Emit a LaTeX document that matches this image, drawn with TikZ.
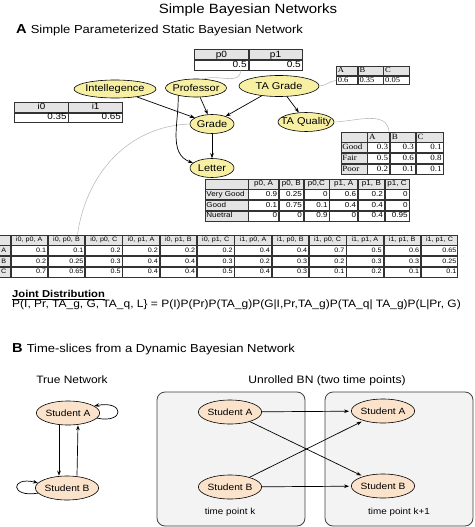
\documentclass[tikz,border=0pt]{standalone}
\usepackage{fontspec}
\setmainfont{Liberation Sans}[FakeStretch=1.12]
\newfontfamily\tabserif{Liberation Serif}[FakeStretch=1.12]
\usepackage{xcolor}
\usepackage{tikz}
\usetikzlibrary{shapes.geometric, arrows.meta, positioning, matrix}

\definecolor{nodeyellow}{HTML}{F7F0A2}
\definecolor{studentfill}{HTML}{FBE2CB}
\definecolor{hdgray}{HTML}{E4E4E4}
\definecolor{slicegray}{HTML}{F3F3F3}
\definecolor{linkgray}{HTML}{BDBDBD}

\newcommand{\lbl}[1]{\makebox[0pt]{#1}}
\newcommand{\fs}[2]{\fontsize{#1}{#2}\selectfont}

\begin{document}
\begin{tikzpicture}[x=1pt, y=1pt,
  bn/.style={ellipse, draw, line width=0.6pt, fill=nodeyellow, inner sep=0pt, font=\fs{9.8}{11}},
  student/.style={ellipse, draw, line width=0.6pt, fill=studentfill, inner sep=0pt,
    minimum width=56pt, minimum height=24pt, font=\fs{9.1}{11}},
  cpt/.style={matrix of nodes, nodes in empty cells, inner sep=0pt, outer sep=0pt,
    column sep=0pt, row sep=0pt,
    nodes={draw=black!80, line width=0.7pt, outer sep=0pt, inner xsep=1.5pt, inner ysep=0pt,
      align=right, anchor=center},
    row 1/.style={nodes={fill=hdgray, align=center}}},
  slice/.style={draw=black!75, line width=0.8pt, rounded corners=8pt, fill=slicegray},
  arr/.style={-{Stealth[length=5pt, width=3.6pt]}, line width=0.7pt},
  link/.style={draw=linkgray, line width=0.6pt}]
\useasboundingbox (0,0) rectangle (474,-527);

\node[anchor=base] (title) at (248,-13.5) {\fs{13.4}{15}Simple Bayesian Networks};
\node[anchor=base west, inner sep=0pt] (secA) at (16,-34) {\fs{13}{15}\textbf{A} \fs{11.6}{14}Simple Parameterized Static Bayesian Network};

% network A
\node[bn, minimum width=82pt, minimum height=18pt] (intel) at (115,-89) {\lbl{Intellegence}};
\node[bn, minimum width=61pt, minimum height=18pt] (prof) at (196,-88) {\lbl{Professor}};
\node[bn, minimum width=80pt, minimum height=21pt] (tag) at (279,-86) {\lbl{TA Grade}};
\node[bn, minimum width=44pt, minimum height=19pt] (grade) at (212,-124) {\lbl{Grade}};
\node[bn, minimum width=56pt, minimum height=19pt] (taq) at (306,-122) {\lbl{TA Quality}};
\node[bn, minimum width=44pt, minimum height=19pt] (letter) at (212,-168) {\lbl{Letter}};

% tables
\matrix[cpt, nodes={font=\fs{9}{9}, text width=50.5pt, minimum height=10pt, text height=6.5pt, text depth=1.8pt}]
  (ptab) at (248.5,-60) {
  p0 & p1 \\
  0.5 & 0.5 \\
};
\matrix[cpt, nodes={font=\fs{8.8}{9}, text width=50.5pt, minimum height=9.5pt, text height=6.3pt, text depth=1.8pt}]
  (itab) at (68.5,-112.5) {
  i0 & i1 \\
  0.35 & 0.65 \\
};
\matrix[cpt, nodes={font=\tabserif\fs{7.6}{8}, minimum height=8.5pt, text height=5.4pt, text depth=1.5pt, align=left},
  row 1/.append style={nodes={align=left}},
  column 1/.style={nodes={text width=18pt}}, column 2/.style={nodes={text width=22pt}},
  column 3/.style={nodes={text width=23pt}}]
  (tgtab) at (373,-75.5) {
  A & B & C \\
  0.6 & 0.35 & 0.05 \\
};
\matrix[cpt, nodes={font=\tabserif\fs{8}{8}, minimum height=10pt, text height=5.7pt, text depth=1.6pt},
  row 1/.append style={nodes={align=left}},
  column 1/.style={nodes={text width=23pt, fill=hdgray, align=left}}, column 2/.style={nodes={text width=19pt}},
  column 3/.style={nodes={text width=22pt}}, column 4/.style={nodes={text width=24pt}}]
  (qtab) at (392,-153) {
  & A & B & C \\
  Good & 0.3 & 0.3 & 0.1 \\
  Fair & 0.5 & 0.6 & 0.8 \\
  Poor & 0.2 & 0.1 & 0.1 \\
};
\matrix[cpt, nodes={font=\fs{7.2}{8}, minimum height=10pt, text height=5.2pt, text depth=1.5pt},
  column 1/.style={nodes={text width=40pt, fill=hdgray, align=left}}, column 2/.style={nodes={text width=27pt}},
  column 3/.style={nodes={text width=21pt}}, column 4/.style={nodes={text width=22pt}},
  column 5/.style={nodes={text width=25pt}}, column 6/.style={nodes={text width=23pt}},
  column 7/.style={nodes={text width=21pt}}]
  (ltab) at (307,-200) {
  & p0, A & p0, B & p0,C & p1, A & p1, B & p1, C \\
  Very Good & 0.9 & 0.25 & 0 & 0.6 & 0.2 & 0 \\
  Good & 0.1 & 0.75 & 0.1 & 0.4 & 0.4 & 0 \\
  Nuetral & 0 & 0 & 0.9 & 0 & 0.4 & 0.95 \\
};
\matrix[cpt, nodes={font=\fs{6.4}{7}, text width=33.6pt, minimum height=10pt, text height=4.6pt, text depth=1.3pt},
  column 1/.style={nodes={text width=10pt, fill=hdgray, align=center}}]
  (bigtab) at (227.5,-256) {
  & i0, p0, A & i0, p0, B & i0, p0, C & i0, p1, A & i0, p1, B & i0, p1, C
    & i1, p0, A & i1, p0, B & i1, p0, C & i1, p1, A & i1, p1, B & i1, p1, C \\
  A & 0.1 & 0.1 & 0.2 & 0.2 & 0.2 & 0.2 & 0.4 & 0.4 & 0.7 & 0.5 & 0.6 & 0.65 \\
  B & 0.2 & 0.25 & 0.3 & 0.4 & 0.4 & 0.3 & 0.2 & 0.3 & 0.2 & 0.3 & 0.3 & 0.25 \\
  C & 0.7 & 0.65 & 0.5 & 0.4 & 0.4 & 0.5 & 0.4 & 0.3 & 0.1 & 0.2 & 0.1 & 0.1 \\
};

% table links
\draw[link] ([xshift=-8pt]ptab.south) to[out=-90, in=20] (prof.50);
\draw[link] (tag.east) to[out=0, in=185] ([yshift=-5pt]tgtab.west);
\draw[link] (taq.east) to[out=2, in=95] ([xshift=-3pt]qtab.north);
\draw[link] (grade.west) to[out=182, in=82] ([xshift=-150pt]bigtab.north);

% arcs
\draw[arr] (intel) -- (grade);
\draw[arr] (prof) -- (grade);
\draw[arr] (tag) -- (grade);
\draw[arr] (tag) -- (taq);
\draw[arr] (grade) -- (letter);
\draw[arr] (prof.203) to[out=-88, in=160] (letter.165);

% joint distribution
\node[anchor=base west, inner sep=0pt] (jdtitle) at (12,-297.5) {\fs{10}{12}\textbf{\underline{Joint Distribution}}};
\node[anchor=base west, inner sep=0pt] (jdformula) at (12,-307.5) {\fs{10.7}{12}P(I, Pr, TA\_g, G, TA\_q, L\} = P(I)P(Pr)P(TA\_g)P(G|I,Pr,TA\_g)P(TA\_q| TA\_g)P(L|Pr, G)};

% part B
\node[anchor=base west, inner sep=0pt] (secB) at (12,-352) {\fs{13}{15}\textbf{B} \fs{11.6}{14}Time-slices from a Dynamic Bayesian Network};
\node[anchor=base] (truenet) at (72,-383) {\fs{10.7}{12}True Network};
\node[anchor=base] (unrolled) at (327,-383) {\fs{10.8}{12}Unrolled BN (two time points)};

\node[slice, minimum width=148pt, minimum height=134pt] (slicek) at (231,-459) {};
\node[slice, minimum width=148pt, minimum height=134pt] (slicek1) at (399,-459) {};
\node[anchor=base] (labk) at (230,-514) {\fs{8.8}{10}time point k};
\node[anchor=base] (labk1) at (399,-514) {\fs{8.8}{10}time point k+1};

\node[student] (sa) at (68,-413) {Student A};
\node[student] (sb) at (67,-488) {Student B};
\node[student] (ka) at (230,-412) {Student A};
\node[student] (kb) at (230,-487) {Student B};
\node[student] (na) at (383,-411) {Student A};
\node[student] (nb) at (383,-486) {Student B};

\draw[arr] (sa.-10) .. controls (125,-424) and (125,-400) .. (sa.15);
\draw[arr] (sb.190) .. controls (10,-498) and (10,-476) .. (sb.170);
\draw[arr] ([xshift=-9pt]sa.south) -- ([xshift=-8pt]sb.north);
\draw[arr] ([xshift=10pt]sb.north) -- ([xshift=10pt]sa.south);

\draw[arr, shorten >=2pt] (ka) -- (na);
\draw[arr, shorten >=2pt] (ka) -- (nb);
\draw[arr, shorten >=2pt] (kb) -- (na);
\draw[arr, shorten >=2pt] (kb) -- (nb);
\end{tikzpicture}
\end{document}
